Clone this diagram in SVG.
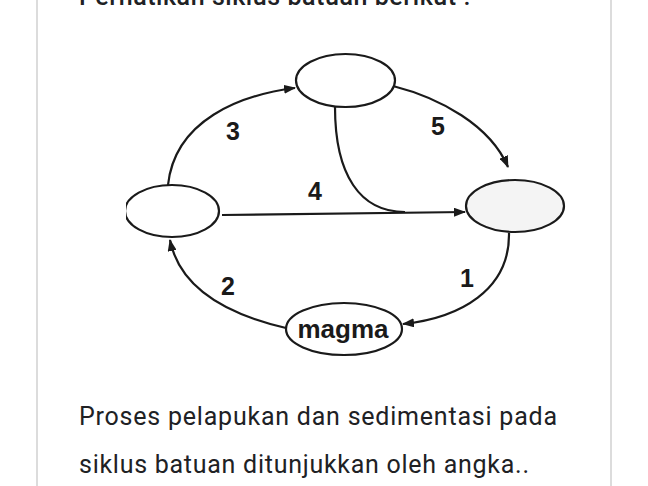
<svg xmlns="http://www.w3.org/2000/svg" width="648" height="486" viewBox="0 0 648 486">
<style>
.node{fill:#fff;stroke:#1a1a1a;stroke-width:2.2}
.conn{fill:none;stroke:#1a1a1a;stroke-width:2.2}
.num{font-family:"Liberation Sans",Arial,sans-serif;font-weight:bold;font-size:25px;fill:#1a1a1a;text-anchor:middle}
.txt{font-family:Roboto,"Noto Sans",sans-serif;font-size:25px;fill:#202124}
</style>
<defs>
<marker id="ah" viewBox="0 0 12 9" refX="11" refY="4.5" markerWidth="12" markerHeight="9" markerUnits="userSpaceOnUse" orient="auto">
<path d="M0,0 L12,4.5 L0,9 Z" fill="#1a1a1a"/>
</marker>
<clipPath id="clipL"><rect x="126" y="0" width="522" height="486"/></clipPath>
</defs>
<rect x="0" y="0" width="648" height="486" fill="#fff"/>
<line x1="37" y1="0" x2="37" y2="486" stroke="#dcdcdc" stroke-width="2"/>
<line x1="611" y1="0" x2="611" y2="486" stroke="#dcdcdc" stroke-width="2"/>
<text class="txt" x="79" y="5" font-weight="500" textLength="391" lengthAdjust="spacing">Perhatikan siklus batuan berikut !</text>
<g id="connectors">
<path class="conn" d="M168,185 C175,120 240,95 295,88" marker-end="url(#ah)"/>
<path class="conn" d="M393,86 C440,98 490,125 508,167" marker-end="url(#ah)"/>
<path class="conn" d="M222,215 L465,212" marker-end="url(#ah)"/>
<path class="conn" d="M335,107 C335,175 360,212 405,212"/>
<path class="conn" d="M509,233 C510,290 460,318 403,324" marker-end="url(#ah)"/>
<path class="conn" d="M286,328 C230,315 180,290 170,240" marker-end="url(#ah)"/>
<text class="num" x="233" y="140">3</text>
<text class="num" x="438" y="135">5</text>
<text class="num" x="315" y="200">4</text>
<text class="num" x="228" y="295">2</text>
<text class="num" x="467" y="287">1</text>
</g>
<g id="node-top"><ellipse class="node" cx="345.5" cy="80.5" rx="49.5" ry="26.5"/></g>
<g id="node-left" clip-path="url(#clipL)"><ellipse class="node" cx="172" cy="211" rx="47" ry="26"/></g>
<g id="node-right"><ellipse class="node" cx="515" cy="206" rx="49" ry="26" style="fill:#f4f4f4"/></g>
<g id="node-magma"><ellipse class="node" cx="344" cy="329" rx="58" ry="26"/>
<text class="num" x="343" y="338" style="font-size:26px">magma</text></g>
<text class="txt" x="79" y="425" textLength="478" lengthAdjust="spacing">Proses pelapukan dan sedimentasi pada</text>
<text class="txt" x="79" y="473" textLength="450" lengthAdjust="spacing">siklus batuan ditunjukkan oleh angka..</text>
</svg>
